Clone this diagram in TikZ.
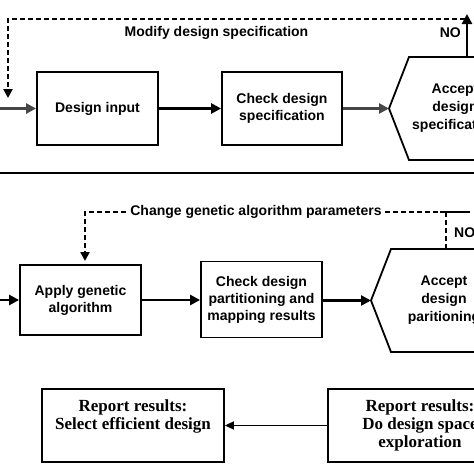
\documentclass[tikz,border=0pt]{standalone}
\usepackage{fontspec}
\setmainfont{Liberation Sans}
\newfontfamily\timesf{Liberation Serif}
\usetikzlibrary{arrows.meta,calc}
\begin{document}
\begin{tikzpicture}[x=1pt,y=-1pt,
  sbox/.style={draw, line width=1.8pt, align=center, inner sep=0pt,
    font=\bfseries\fontsize{14}{17}\selectfont},
  tbox/.style={draw, line width=1.8pt, align=center, inner sep=0pt},
  ttext/.style={align=center, inner sep=0pt, font=\timesf\bfseries\fontsize{17}{18}\selectfont},
  lbl/.style={align=center, inner sep=1pt, font=\bfseries\fontsize{14}{18}\selectfont},
  hexa/.style={line width=1.8pt, line join=miter},
  arr/.style={line width=2.6pt, -{Triangle[length=10pt,width=10pt]}},
  garr/.style={arr, draw=black!72, fill=black!72},
  dsh/.style={line width=2.4pt, dash pattern=on 5pt off 3pt},
  dsharr/.style={dsh, -{Triangle[length=9pt,width=9pt]}},
  thinarr/.style={line width=1.8pt, -{Triangle[length=9pt,width=8pt]}}
]
\useasboundingbox (0,0) rectangle (474,474);
\clip (0,0) rectangle (474,474);

% ---------- top section ----------
\node[sbox, minimum width=121pt, minimum height=73pt] (din) at (97.5,108.5) {Design input};
\node[sbox, minimum width=120pt, minimum height=73pt] (chk1) at (282,108.5) {Check design\\specification};
\draw[hexa] (521,108.5) -- (501,57) -- (409,57) -- (389,108.5) -- (409,160) -- (501,160) -- cycle;
\node[lbl] (acc1) at (455,108.5) {Accept\\design\\specification};
\coordinate (acc1w) at (389,108.5);
\coordinate (acc1n) at (467,57);
\coordinate (s1) at (0,108.5);
\coordinate (notip) at (467,14);
\coordinate (t1) at (465,19);
\coordinate (t0) at (8,19);
\coordinate (t2) at (8,98);

\draw[garr] (s1) -- (din.west);
\draw[arr] (din) -- (chk1);
\draw[garr] (chk1) -- (acc1w);
\draw[arr] (acc1n) -- (notip);
\draw[dsharr] (t1) -- (t0) -- (t2);
\node[lbl] (mod) at (216.5,33) {Modify design specification};
\node[lbl, anchor=east] (no1) at (462,33) {NO};

% ---------- separator ----------
\coordinate (sepL) at (0,173);
\coordinate (sepR) at (474,173);
\draw[line width=2.6pt] (sepL) -- (sepR);

% ---------- middle section ----------
\node[sbox, minimum width=121pt, minimum height=70pt] (ga) at (80.5,300) {Apply genetic\\algorithm};
\node[sbox, minimum width=121pt, minimum height=76pt] (chk2) at (261.5,299.5) {Check design\\partitioning and\\mapping results};
\draw[hexa] (517,300.5) -- (497,249) -- (391,249) -- (371,300.5) -- (391,352) -- (497,352) -- cycle;
\node[lbl] (acc2) at (444,300.5) {Accept\\design\\paritioning};
\coordinate (acc2w) at (371,300.5);
\coordinate (s2) at (0,300);
\coordinate (m1) at (446,249);
\coordinate (m2) at (446,212);
\coordinate (m0) at (85,212);
\coordinate (m3) at (85,261);
\coordinate (m4) at (440,212);
\coordinate (m5) at (470,212);

\draw[arr] (s2) -- (ga.west);
\draw[arr] (ga.east) -- (ga.east -| chk2.west);
\draw[arr] (chk2.east |- acc2w) -- (acc2w);
\draw[dsh] (m1) -- (m2);
\draw[dsharr] (m2) -- (m0) -- (m3);
\draw[line width=2.6pt] (m4) -- (m5);
\node[lbl, fill=white] (cg) at (256,212) {Change genetic algorithm parameters};
\node[lbl, anchor=west] (no2) at (453,233) {NO};

% ---------- bottom section ----------
\node[tbox, minimum width=182pt, minimum height=73pt] (rep1) at (133,425.5) {};
\node[ttext] (rep1t) at (133,416) {Report results:\\Select efficient design};
\node[tbox, minimum width=184pt, minimum height=73pt] (rep2) at (420,425.5) {};
\node[ttext] (rep2t) at (420,425) {Report results:\\Do design space\\exploration};
\draw[thinarr] (rep2) -- (rep1);
\end{tikzpicture}
\end{document}
